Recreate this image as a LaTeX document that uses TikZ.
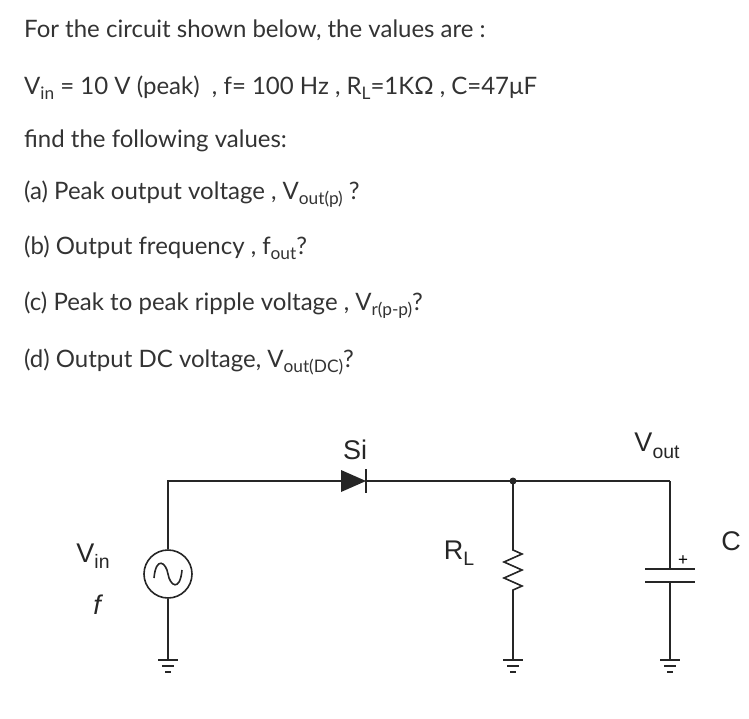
\documentclass[tikz,border=0pt]{standalone}
\usepackage{fontspec}
\setmainfont{Lato}
\newfontfamily\arial{Liberation Sans}
\newcommand{\dsub}[1]{\raisebox{-0.45ex}{\fontsize{0.72em}{1em}\selectfont #1}}
\begin{document}
\begin{tikzpicture}[x=1pt,y=-1pt,
  q/.style={anchor=base west,inner sep=0,font=\fontsize{24}{28}\selectfont,text=black!80},
  w/.style={line width=1.6pt,black!85},
  lab/.style={inner sep=0,font=\arial\fontsize{27}{30}\selectfont,text=black!85}]
\useasboundingbox (0,0) rectangle (749,718);
\node[q] (t1) at (24,37) {For the circuit shown below, the values are :};
\node[q] (t2) at (24,94) {V\dsub{in} = 10 V (peak) \ , f= 100 Hz , R\dsub{L}=1KΩ , C=47μF};
\node[q] (t3) at (24,147) {find the following values:};
\node[q] (t4) at (24,199) {(a) Peak output voltage , V\dsub{out(p)} ?};
\node[q] (t5) at (24,254) {(b) Output frequency , f\dsub{out}?};
\node[q] (t6) at (24,310) {(c) Peak to peak ripple voltage , V\dsub{r(p-p)}?};
\node[q] (t7) at (24,367) {(d) Output DC voltage, V\dsub{out(DC)}?};
% circuit
\coordinate (tl) at (168,481);
\coordinate (j) at (513,481);
\coordinate (tr) at (670,481);
\coordinate (da) at (341,481);
\node[draw,circle,w,minimum size=48pt,inner sep=0] (src) at (168,574) {};
\draw[w] (src.north) -- (tl) -- (da);
\fill[black!85] (da)++(0,-11) -- ++(25,11) -- ++(-25,11) -- cycle;
\draw[w] (366,469) -- (366,493);
\draw[w] (366,481) -- (j) -- (tr);
\fill[black!85] (j) circle (3.5);
\draw[w] (154,578) .. controls (156,556) and (166,562) .. (168,574) .. controls (170,586) and (180,592) .. (182,570);
\coordinate (g1) at (168,660);
\draw[w] (src.south) -- (g1);
% resistor
\coordinate (r1) at (513,550); \coordinate (r2) at (513,597);
\coordinate (g2) at (513,660);
\draw[w] (j) -- (r1) -- ++(9,4) -- ++(-18,8) -- ++(18,8) -- ++(-18,8) -- ++(18,8) -- ++(-9,4) -- (r2) -- (g2);
% capacitor
\coordinate (c1) at (670,569); \coordinate (c2) at (670,582);
\coordinate (g3) at (670,660);
\draw[w] (tr) -- (c1); \draw[line width=2.6pt,black!85] (645,569) -- (695,569);
\draw[line width=2.6pt,black!85] (645,582) -- (695,582);
\draw[w] (c2) -- (g3);
\node[inner sep=0,font=\arial\fontsize{17}{17}\selectfont] (plus) at (683,561) {+};
% grounds
\foreach \g in {g1,g2,g3}{
 \draw[w] (\g)++(-10,0) -- ++(20,0);
 \draw[w] (\g)++(-6,6) -- ++(12,0);
 \draw[w] (\g)++(-3,12) -- ++(6,0);}
\node[lab] (si) at (355,450) {Si};
\node[lab] (vout) at (657,446) {V\dsub{out}};
\node[lab] (c) at (731,541) {C};
\node[lab] (rl) at (459,553) {R\dsub{L}};
\node[lab] (vin) at (93,556) {V\dsub{in}};
\node[lab] (f) at (97,605) {\itshape f};
\end{tikzpicture}
\end{document}
